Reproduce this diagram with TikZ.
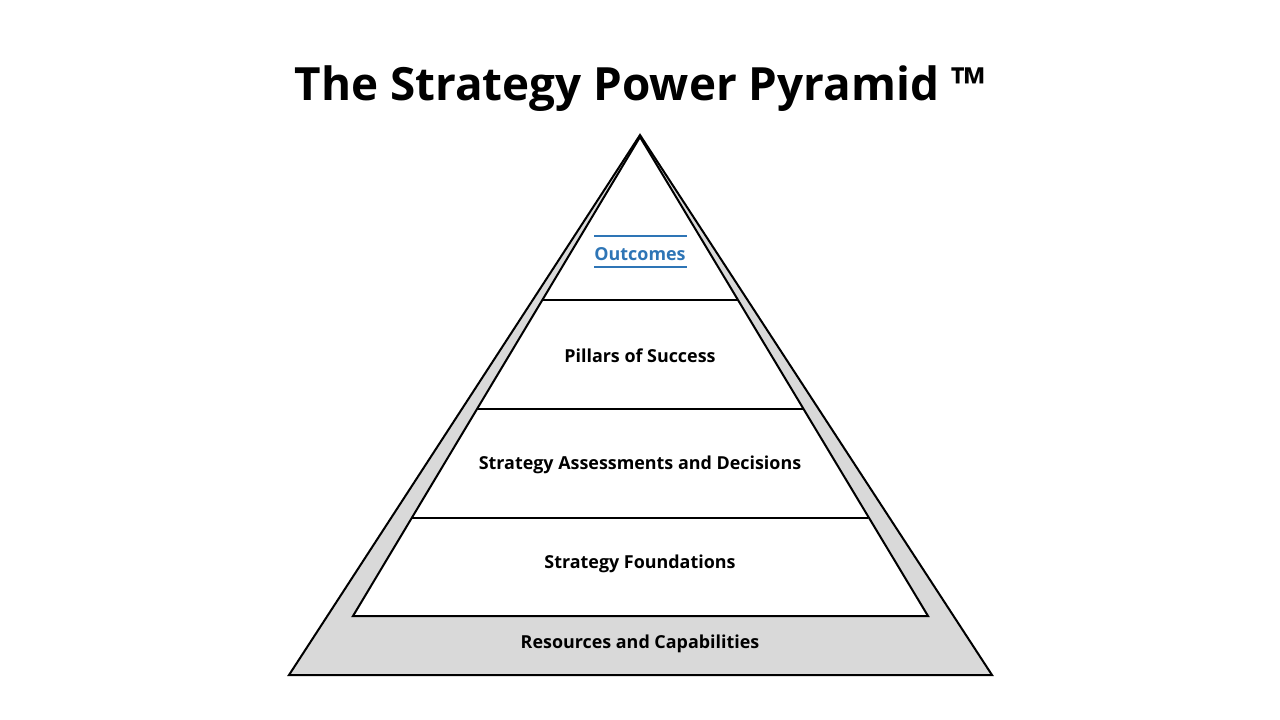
\documentclass[tikz,border=0pt]{standalone}
\usepackage{fontspec}
\setmainfont{Open Sans}
\definecolor{outblue}{RGB}{46,117,182}
\definecolor{basegray}{RGB}{217,217,217}

\begin{document}
\begin{tikzpicture}[
    x=1pt, y=-1pt,
    font=\bfseries,
    edge/.style={draw=black, line width=2pt, line join=miter},
    layer/.style={font=\fontsize{17.9}{21}\selectfont\bfseries},
    rule/.style={draw=outblue, line width=2pt}
  ]
  \useasboundingbox (0,0) rectangle (1280,720);

  \node (title) at (640,89) {\fontsize{45.8}{55}\selectfont\bfseries The Strategy Power Pyramid ™};

  % outer and inner triangles
  \draw[edge, fill=basegray] (640,135) -- (992,675) -- (289,675) -- cycle;
  \draw[edge, fill=white] (640,137) -- (928,616) -- (353,616) -- cycle;

  % band dividers
  \draw[edge] (542,300) -- (738,300);
  \draw[edge] (477,409) -- (803,409);
  \draw[edge] (412,518) -- (868,518);

  \node (outcomes) [layer, text=outblue] at (640,254) {Outcomes};
  \draw[rule] (594,236) -- (687,236);
  \draw[rule] (594,267) -- (687,267);

  \node (pillars)  [layer] at (640,356) {Pillars of Success};
  \node (assess)   [layer] at (640,465) {Strategy Assessments and Decisions};
  \node (found)    [layer] at (640,564) {Strategy Foundations};
  \node (resource) [layer] at (640,644) {Resources and Capabilities};
\end{tikzpicture}
\end{document}
